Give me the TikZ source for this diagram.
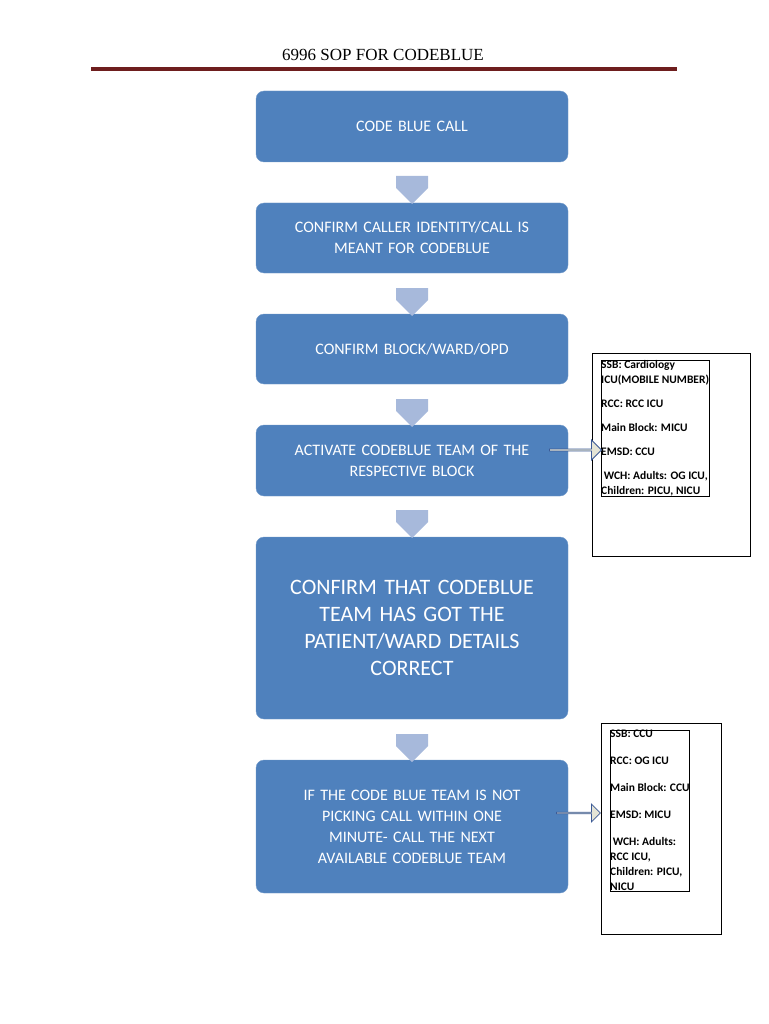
\documentclass[tikz,border=0pt]{standalone}
\usepackage{fontspec}
\setmainfont{Carlito}
\newfontfamily\titlefont{Liberation Serif}
\usetikzlibrary{shapes.arrows}
\definecolor{boxblue}{RGB}{79,129,189}
\definecolor{arrblue}{RGB}{167,185,219}
\definecolor{rulered}{RGB}{110,30,30}
\definecolor{sidearrow}{RGB}{228,228,214}
\definecolor{sideedge}{RGB}{60,90,150}
\begin{document}
\begin{tikzpicture}[x=1pt,y=-1pt,
  flowbox/.style={draw=boxblue!80!white,fill=boxblue,rounded corners=8pt,text=white,align=center,font=\fontsize{16}{21}\selectfont,minimum width=312pt,text width=300pt},
  down/.style={single arrow,draw=none,fill=arrblue,shape border rotate=270,minimum width=32pt,single arrow head extend=0pt,minimum height=28pt,inner sep=0pt,single arrow tip angle=90},
  side/.style={draw=black,fill=white,align=left,anchor=north west,font=\bfseries\fontsize{11.5}{15}\selectfont,inner sep=0pt},
  sarr/.style={single arrow,draw=sideedge,thick,fill=sidearrow,minimum width=20pt,single arrow head extend=4pt,inner sep=0pt,minimum height=52pt}]
\useasboundingbox (0,0) rectangle (768,1024);
\node[font=\titlefont\fontsize{17}{20}\selectfont] (title) at (383,55) {6996 SOP FOR CODEBLUE};
\draw[rulered,line width=3.5pt] (91,69) coordinate (r1) -- (677,69) coordinate (r2);
\node[flowbox,minimum height=71pt] (b1) at (412,126.5) {CODE BLUE CALL};
\node[flowbox,minimum height=70pt] (b2) at (412,238) {CONFIRM CALLER IDENTITY/CALL IS\\MEANT FOR CODEBLUE};
\node[flowbox,minimum height=70pt] (b3) at (412,349) {CONFIRM BLOCK/WARD/OPD};
\node[flowbox,minimum height=71pt] (b4) at (412,460.5) {ACTIVATE CODEBLUE TEAM OF THE\\RESPECTIVE BLOCK};
\node[flowbox,minimum height=182pt,font=\fontsize{22}{27}\selectfont] (b5) at (412,628) {CONFIRM THAT CODEBLUE\\TEAM HAS GOT THE\\PATIENT/WARD DETAILS\\CORRECT};
\node[flowbox,minimum height=133pt] (b6) at (412,826.5) {IF THE CODE BLUE TEAM IS NOT\\PICKING CALL WITHIN ONE\\MINUTE- CALL THE NEXT\\AVAILABLE CODEBLUE TEAM};
\node[down] (a1) at (412,182) {};
\node[down] (a2) at (412,294) {};
\node[down] (a3) at (412,405) {};
\node[down] (a4) at (412,516) {};
\node[down] (a5) at (412,740) {};
\draw[black] (592,353) rectangle (750,556);
\node[side] (s1) at (601,360) {SSB: Cardiology\\ICU(MOBILE NUMBER)\\[9pt]RCC: RCC ICU\\[9pt]Main Block: MICU\\[9pt]EMSD: CCU\\[9pt]\ WCH: Adults: OG ICU,\\Children: PICU, NICU};
\draw[black] (601,723) rectangle (721,934);
\node[side] (s2) at (610,730) {SSB: CCU\\[12pt]RCC: OG ICU\\[12pt]Main Block: CCU\\[12pt]EMSD: MICU\\[12pt]\ WCH: Adults:\\RCC ICU,\\Children: PICU,\\NICU};
\node[sarr] (h1) at (575,450) {};
\node[sarr,minimum height=44pt,minimum width=18pt] (h2) at (578,813) {};
\end{tikzpicture}
\end{document}
